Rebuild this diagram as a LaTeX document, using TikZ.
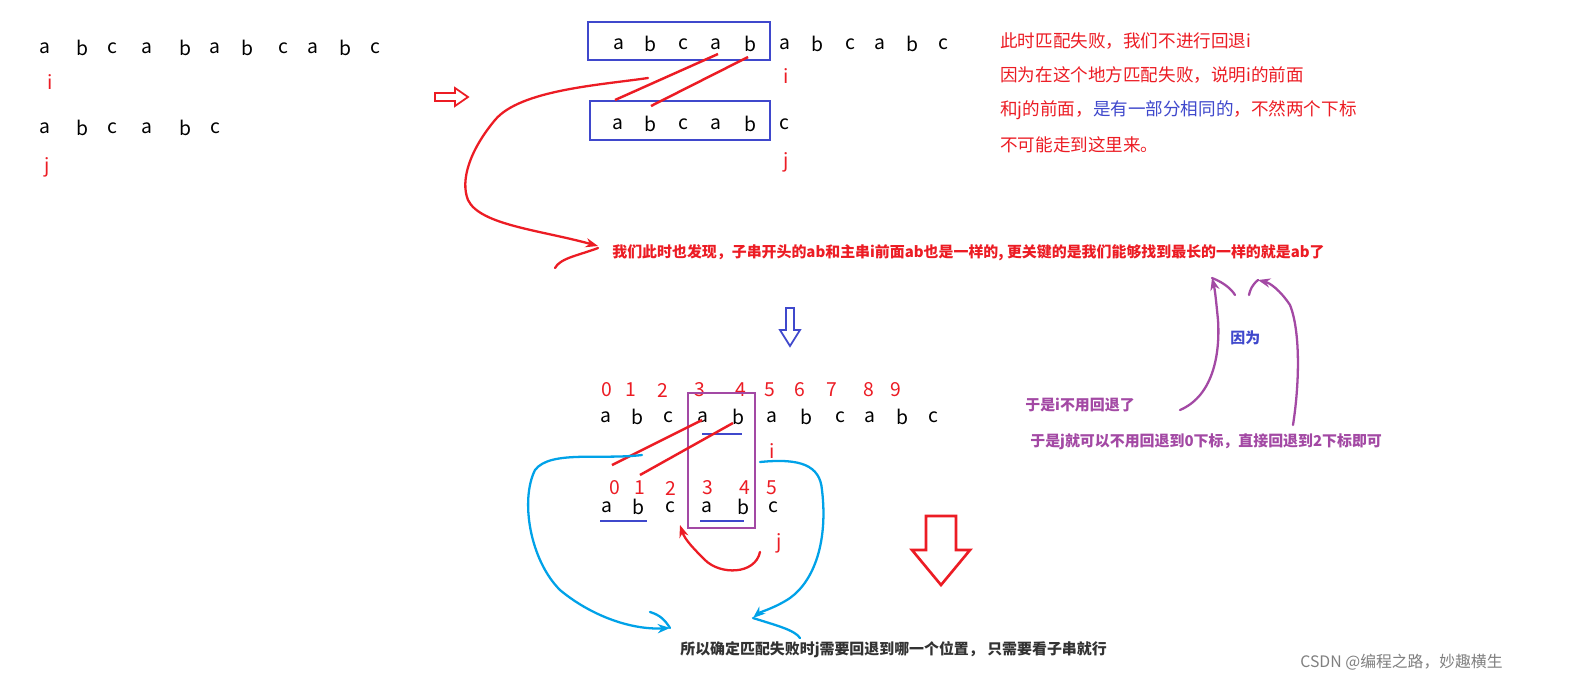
\documentclass[tikz,border=0pt]{standalone}
\usepackage{fontspec}
\setmainfont{Noto Sans CJK SC}
\usetikzlibrary{arrows.meta}
\definecolor{rd}{RGB}{236,28,36}
\definecolor{bl}{RGB}{63,72,204}
\definecolor{pu}{RGB}{163,73,164}
\definecolor{cy}{RGB}{0,162,232}
\tikzset{lt/.style={font=\fontsize{11}{13}\selectfont,inner sep=0pt},
 rl/.style={rd,line width=1.4pt},
 hand/.style={line width=1.3pt,line cap=round},
 bt/.style={font=\bfseries\fontsize{8.5}{10}\selectfont,anchor=west,inner sep=0pt},
 ct/.style={font=\fontsize{10}{12}\selectfont,anchor=west,inner sep=0pt,rd}}
\begin{document}
\begin{tikzpicture}[x=0.02cm,y=-0.02cm]
\useasboundingbox (0,0) rectangle (1569,681);
\fill[white] (0,0) rectangle (1569,681);
% top-left
\foreach \x/\l [count=\k] in {45/a,82/b,112/c,147/a,185/b,215/a,247/b,283/c,313/a,345/b,375/c}
  \node[lt] (t\k) at (\x,48) {\l};
\node[lt,rd] (ti) at (50,82) {i};
\foreach \x/\l [count=\k] in {45/a,82/b,112/c,147/a,185/b,215/c}
  \node[lt] (s\k) at (\x,128) {\l};
\node[lt,rd] (sj) at (47,167) {j};
% hollow right arrow
\draw[rd,line width=1pt] (435,93)--(455,93)--(455,88)--(468,97)--(455,106)--(455,101)--(435,101)--cycle;
% boxes top
\draw[bl,line width=1.5pt] (588,22) rectangle (770,60);
\draw[bl,line width=1.5pt] (590,101) rectangle (770,140);
\foreach \x/\l [count=\k] in {619/a,650/b,683/c,716/a,750/b,785/a,817/b,850/c,880/a,912/b,943/c}
  \node[lt] (m\k) at (\x,44) {\l};
\node[lt,rd] (mi) at (786,76) {i};
\foreach \x/\l [count=\k] in {618/a,650/b,683/c,716/a,750/b,784/c}
  \node[lt] (n\k) at (\x,124) {\l};
\node[lt,rd] (nj) at (786,162) {j};
\draw[rl] (615,100)--(718,54);
\draw[rl] (651,106)--(748,57);
% red loop
\draw[rd,hand,-{Stealth[length=7pt]}] (648,78) .. controls (600,85) and (520,90) .. (495,120) .. controls (470,150) and (460,180) .. (468,200) .. controls (480,225) and (540,230) .. (598,246);
\draw[rd,hand] (598,248) .. controls (580,255) and (560,258) .. (555,268);
% red texts
\node[ct] (r1) at (1000,41) {此时匹配失败，我们不进行回退i};
\node[ct] (r2) at (1000,75) {因为在这个地方匹配失败，说明i的前面};
\node[ct] (r3) at (1000,110) {和j的前面，\textcolor{bl}{是有一部分相同的}，不然两个下标};
\node[ct] (r4) at (1000,145) {不可能走到这里来。};
\node[bt,rd] (big) at (612,253) {我们此时也发现，子串开头的ab和主串i前面ab也是一样的, 更关键的是我们能够找到最长的一样的就是ab了};
% blue down arrow
\draw[bl,line width=1pt] (786,308)--(794,308)--(794,330)--(800,330)--(790,346)--(780,330)--(786,330)--cycle;
% middle rows
\foreach \x/\l in {607/0,631/1,663/2,700/3,741/4,770/5,800/6,832/7,869/8,896/9}
  \node[lt,rd] at (\x,390) {\l};
\foreach \x/\l [count=\k] in {606/a,637/b,668/c,703/a,738/b,772/a,806/b,840/c,870/a,902/b,933/c}
  \node[lt] (p\k) at (\x,417) {\l};
\node[lt,rd] (pi) at (772,451) {i};
\draw[pu,line width=1.5pt] (688,393) rectangle (755,528);
\draw[bl,line width=1.2pt] (702,434)--(742,434);
\foreach \x/\l in {615/0,640/1,671/2,708/3,745/4,772/5}
  \node[lt,rd] at (\x,488) {\l};
\foreach \x/\l [count=\k] in {607/a,638/b,670/c,707/a,743/b,773/c}
  \node[lt] (q\k) at (\x,507) {\l};
\node[lt,rd] (qj) at (779,543) {j};
\draw[bl,line width=1.2pt] (600,521)--(647,521);
\draw[bl,line width=1.2pt] (700,521)--(744,521);
\draw[rl] (612,465)--(702,420);
\draw[rl] (640,475)--(733,423);
\draw[rd,hand,-{Stealth[length=7pt]}] (760,552) .. controls (755,575) and (720,575) .. (705,560) .. controls (695,550) and (685,540) .. (680,525);
% cyan loops
\draw[cy,hand,-{Stealth[length=7pt]}] (642,455) .. controls (600,460) and (550,450) .. (535,470) .. controls (520,500) and (530,560) .. (560,590) .. controls (590,615) and (630,630) .. (670,628);
\draw[cy,hand] (650,612) .. controls (660,615) and (665,620) .. (670,628);
\draw[cy,hand,-{Stealth[length=7pt]}] (760,462) .. controls (800,458) and (820,465) .. (822,490) .. controls (828,540) and (815,580) .. (790,598) .. controls (775,608) and (760,612) .. (753,618);
\draw[cy,hand] (753,618) .. controls (775,625) and (795,630) .. (800,638);
% big red down arrow
\draw[rd,line width=1.5pt] (926,516)--(956,516)--(956,550)--(970,550)--(941,585)--(912,550)--(926,550)--cycle;
\node[bt,black!80] (bot) at (680,650) {所以确定匹配失败时j需要回退到哪一个位置， 只需要看子串就行};
% purple side
\node[bt,bl] (yw) at (1230,338) {因为};
\node[bt,pu] (y1) at (1025,405) {于是i不用回退了};
\node[bt,pu] (y2) at (1030,442) {于是j就可以不用回退到0下标，直接回退到2下标即可};
\draw[pu,hand,-{Stealth[length=7pt]}] (1180,410) .. controls (1215,395) and (1220,350) .. (1218,320) .. controls (1216,300) and (1215,290) .. (1212,278);
\draw[pu,hand] (1212,278) .. controls (1225,283) and (1232,290) .. (1235,295);
\draw[pu,hand,-{Stealth[length=7pt]}] (1293,425) .. controls (1300,380) and (1300,330) .. (1290,305) .. controls (1280,290) and (1270,283) .. (1258,280);
\draw[pu,hand] (1258,280) .. controls (1252,285) and (1250,290) .. (1249,295);
\node[anchor=west,inner sep=0pt,gray,font=\fontsize{9}{11}\selectfont] (wm) at (1300,662) {CSDN @编程之路，妙趣横生};
\end{tikzpicture}
\end{document}
